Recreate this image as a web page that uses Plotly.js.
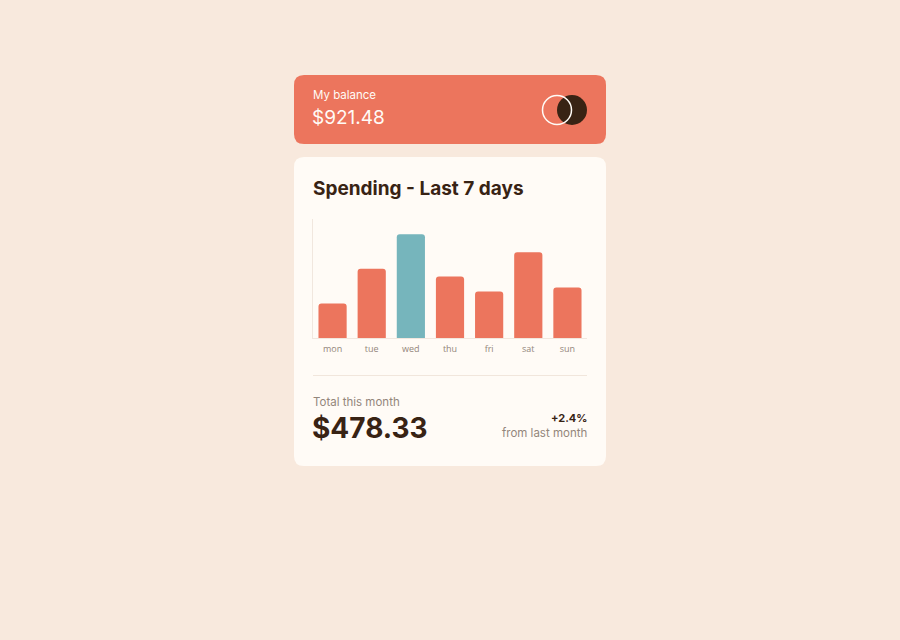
<!DOCTYPE html>
<html>
  <head>
    <meta charset="utf-8" />
    <title>Expenses chart</title>
    <script src="https://cdn.plot.ly/plotly-3.0.1.min.js"></script>
    <style>
      body {
        margin: 0;
        padding: 0;
        background-color: #f8e9dd;
        overflow: hidden;
      }
      #graphDiv {
        width: 900px;
        height: 640px;
      }
    </style>
  </head>
  <body>
    <div id="graphDiv"></div>
    <script>
      const days = ["mon", "tue", "wed", "thu", "fri", "sat", "sun"];
      const amounts = [17.45, 34.91, 52.36, 31.07, 23.39, 43.28, 25.48];
      const balance_label = "My balance";
      const balance_value = "$921.48";
      const chart_title = "Spending - Last 7 days";
      const total_label = "Total this month";
      const total_value = "$478.33";
      const change_value = "+2.4%";
      const change_label = "from last month";

      const soft_red = "#ec755d";
      const cyan = "#76b5bc";
      const dark_brown = "#382314";
      const medium_brown = "#93867b";
      const cream = "#fffbf6";
      const page_bg = "#f8e9dd";
      const font_main = "Inter, 'DejaVu Sans', sans-serif";

      // plot area in page pixels
      const plot_left = 313, plot_right = 587, plot_top = 219, plot_bottom = 338;
      const W = 900, H = 640;
      const px = (x) => (x - plot_left) / (plot_right - plot_left);
      const py = (y) => (plot_bottom - y) / (plot_bottom - plot_top);

      function roundedRect(x0, y0, x1, y1, r) {
        const X0 = px(x0), X1 = px(x1), Y0 = py(y0), Y1 = py(y1);
        const rx = r / (plot_right - plot_left), ry = r / (plot_bottom - plot_top);
        return `M ${X0 + rx},${Y0} L ${X1 - rx},${Y0} Q ${X1},${Y0} ${X1},${Y0 - ry} ` +
          `L ${X1},${Y1 + ry} Q ${X1},${Y1} ${X1 - rx},${Y1} L ${X0 + rx},${Y1} ` +
          `Q ${X0},${Y1} ${X0},${Y1 + ry} L ${X0},${Y0 - ry} Q ${X0},${Y0} ${X0 + rx},${Y0} Z`;
      }

      const max_val = Math.max(...amounts);
      const bar_colors = amounts.map((v) => (v === max_val ? cyan : soft_red));

      const traces = [
        {
          type: "bar",
          x: days,
          y: amounts,
          marker: { color: bar_colors, line: { width: 0 } },
          hoverinfo: "none",
          showlegend: false,
        },
      ];

      const shapes = [
        // balance card
        {
          type: "path", xref: "paper", yref: "paper", layer: "below",
          path: roundedRect(294, 75, 606, 144, 10),
          fillcolor: soft_red, line: { width: 0 },
        },
        // spending card
        {
          type: "path", xref: "paper", yref: "paper", layer: "below",
          path: roundedRect(294, 157, 606, 466, 10),
          fillcolor: cream, line: { width: 0 },
        },
        // logo circles
        {
          type: "circle", xref: "paper", yref: "paper",
          x0: px(557), x1: px(587), y0: py(95), y1: py(125),
          fillcolor: dark_brown, line: { width: 0 },
        },
        {
          type: "circle", xref: "paper", yref: "paper",
          x0: px(542.5), x1: px(571.5), y0: py(95.5), y1: py(124.5),
          fillcolor: "rgba(0,0,0,0)", line: { width: 1.5, color: cream },
        },
        // divider
        {
          type: "line", xref: "paper", yref: "paper",
          x0: px(313), x1: px(587), y0: py(375.5), y1: py(375.5),
          line: { width: 1, color: "#f1e6dc" },
        },
      ];

      // annotations carry ~2px of inner padding, so nudge them by that
      const ann = (x, y, text, size, color, weight, xanchor) => ({
        xref: "paper", yref: "paper",
        x: px(xanchor === "right" ? x + 2 : x - 2), y: py(y),
        xanchor: xanchor || "left", yanchor: "middle",
        text: text, showarrow: false,
        font: { family: font_main, size: size, color: color, weight: weight || 400 },
      });

      const annotations = [
        ann(313, 95, balance_label, 11.5, cream),
        ann(312, 118, balance_value, 19, cream),
        ann(313, 188, chart_title, 19, dark_brown, 700),
        ann(313, 402, total_label, 11.5, medium_brown),
        ann(312, 428, total_value, 28, dark_brown, 700),
        ann(587, 418, change_value, 11, dark_brown, 700, "right"),
        ann(587, 433, change_label, 11.5, medium_brown, 400, "right"),
      ];

      const layout = {
        width: W,
        height: H,
        paper_bgcolor: page_bg,
        plot_bgcolor: cream,
        showlegend: false,
        bargap: 0.28,
        barcornerradius: 3,
        margin: { l: plot_left, r: W - plot_right, t: plot_top, b: H - plot_bottom, pad: 0 },
        xaxis: {
          showgrid: false,
          zeroline: false,
          showline: true,
          linecolor: "#f1e7de",
          linewidth: 1,
          ticks: "",
          ticklabelstandoff: 2,
          tickfont: { family: "'Open Sans', sans-serif", size: 9, color: medium_brown },
          fixedrange: true,
        },
        yaxis: {
          range: [0, 60],
          showgrid: false,
          zeroline: false,
          showline: true,
          linecolor: "#f1e7de",
          linewidth: 1,
          showticklabels: false,
          ticks: "",
          fixedrange: true,
        },
        shapes: shapes,
        annotations: annotations,
      };

      Plotly.newPlot("graphDiv", traces, layout, { displayModeBar: false, staticPlot: true });
    </script>
  </body>
</html>
